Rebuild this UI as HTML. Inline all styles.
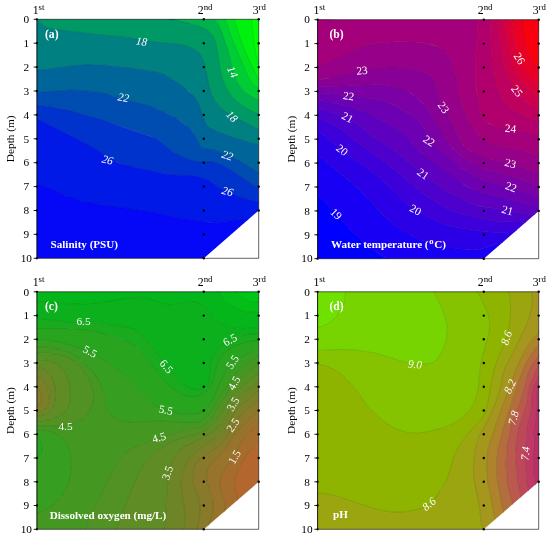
<!DOCTYPE html>
<html lang="en"><head><meta charset="utf-8"><title>Vertical profiles of salinity, water temperature, dissolved oxygen and pH</title>
<style>
html,body{margin:0;padding:0;background:#fff;}
body{width:550px;height:539px;overflow:hidden;}
svg{display:block;font-family:'Liberation Serif','Times New Roman',serif;}
svg text{font-family:'Liberation Serif','Times New Roman',serif;}
</style></head>
<body>
<svg width="550" height="539" viewBox="0 0 550 539">
<rect width="550" height="539" fill="#fff"/>
<clipPath id="ca"><path d="M36.9,19.3H258.7V210.5L203.8,258.3H36.9Z"/></clipPath>
<g clip-path="url(#ca)">
<path d="M250,16.3 261.9,16.3 261.9,69.3 258.4,63.3 255.8,54.3 254.2,44.3 251.8,21.3Z" fill="rgb(0,255,0)" stroke="rgb(0,255,0)" stroke-width="0.6"/>
<path d="M233.2,16.3 250,16.3 251.1,18.3 251.8,21.3 254.2,44.3 255.6,53.3 258.4,63.3 261.9,69.3 261.9,81.7 258.9,79.2 255.9,74.6 244.9,50.8 240.8,40.3Z" fill="rgb(0,241,14)" stroke="rgb(0,241,14)" stroke-width="0.6"/>
<path d="M223.6,16.3 233.2,16.3 240.8,40.3 244.9,50.8 255.9,74.6 258.9,79.2 261.9,81.7 261.9,91.1 253.9,85.3 250.7,81.3 248.3,77.3 232.1,39.3 227.1,24.3Z" fill="rgb(0,223,32)" stroke="rgb(0,223,32)" stroke-width="0.6"/>
<path d="M212.1,16.3 223.6,16.3 227.1,24.3 232.1,39.3 248.3,77.3 250.7,81.3 253.9,85.3 261.9,91.1 261.9,101.9 251.9,97.1 246.9,93.9 241.8,89.3 237.9,84.1 233.9,74.8 228.7,53.3 221,30.3 216.9,22Z" fill="rgb(0,204,51)" stroke="rgb(0,204,51)" stroke-width="0.6"/>
<path d="M158,16.3 212.1,16.3 217.9,23.7 221.8,32.3 228.4,52.3 233.2,72.3 236.4,81.3 240.9,88.3 245.9,93.2 251.9,97.1 261.9,101.9 261.9,115.8 248.9,109.7 240.9,104.7 233.6,98.3 227.9,90.9 224,83.3 221.1,74.3 219,64.3 216.7,47.3 215.3,41.3 212.9,36 209.9,32.1 204.9,28.6 193.9,24.6Z" fill="rgb(0,178,76)" stroke="rgb(0,178,76)" stroke-width="0.6"/>
<path d="M33.9,16.3 158,16.3 188.9,23.2 197.9,25.9 204.9,28.6 207.9,30.4 210.9,33.2 213.1,36.3 215,40.3 216.7,47.3 220.6,72.3 223.2,81.3 226.4,88.3 231.9,96.4 239.9,104 248.1,109.3 261.9,115.8 261.9,131.1 229.9,114.7 222.9,109.8 217.3,104.3 213.3,98.3 210.1,90.3 207.7,81.3 204.7,65.3 202.5,58.3 198.9,52.6 193.9,49 186.9,46.2 177.9,44.2 157.9,42.6 126.9,37.4 96.9,34.5 53.2,29.3 47.9,27.8 42.9,25.2 39.9,22.7 36.9,19.2 33.9,17.1Z" fill="rgb(0,153,102)" stroke="rgb(0,153,102)" stroke-width="0.6"/>
<path d="M33.9,17.1 36.9,19.2 39.9,22.7 43,25.3 47.9,27.8 53.2,29.3 96.9,34.5 126.9,37.4 157.9,42.6 177.9,44.2 187.3,46.3 194.9,49.5 199.9,53.7 202.9,59.2 204.7,65.3 209.5,88.3 211.9,95.3 215.1,101.3 220.9,108.1 228.9,114.1 261.9,131.1 261.9,147.3 257.9,144.7 236.9,138.9 218.9,132.5 209.9,128.1 206.9,125.3 205,122.3 198.6,104.3 195.9,99.1 192.9,95.1 188.9,91.1 182.9,86.7 167.1,76.3 160.9,73.4 153.9,71.7 122.9,67 98.9,64.6 75.9,65.5 44.9,69.7 37.9,69.8 33.9,69.1Z" fill="rgb(0,128,128)" stroke="rgb(0,128,128)" stroke-width="0.6"/>
<path d="M33.9,69.1 37.9,69.8 44.9,69.7 75.9,65.5 88.9,64.7 99.9,64.7 125.9,67.4 154.9,71.9 163.3,74.3 167.9,76.8 184.9,88 192.9,95.1 195.9,99.1 198.6,104.3 205,122.3 206.9,125.3 209.9,128.1 218.9,132.5 236.9,138.9 257.9,144.7 261.9,147.3 261.9,174 257.9,172.3 238.9,160.5 228.9,155.6 213.9,149.9 202.9,148.3 199.9,145.2 192.9,132.1 187.9,126.6 180.9,121.3 171.9,115.4 164.9,111.8 157.9,109 113.9,96 93.9,91.5 82.9,90.4 70.9,90 38.9,92.3 33.9,91.9Z" fill="rgb(0,102,153)" stroke="rgb(0,102,153)" stroke-width="0.6"/>
<path d="M33.9,91.9 38.9,92.3 70.9,90 82.9,90.4 94.9,91.7 105.9,93.9 150.9,106.7 163.9,111.4 175.9,117.9 188.9,127.5 193.9,133.7 199.9,145.3 202.9,148.3 213.9,149.9 228.9,155.6 238.9,160.5 257.9,172.3 261.9,174 261.9,189.2 257.9,187.7 252.9,184.9 231.4,170.3 218.9,163.6 211.9,161.9 199.9,162.2 194.9,161.6 188.9,159.6 177.9,154.9 170.4,150.3 159.9,140.6 153.9,137.6 118.1,125.3 82.9,114.3 56.4,108.3 33.9,104.7Z" fill="rgb(0,77,178)" stroke="rgb(0,77,178)" stroke-width="0.6"/>
<path d="M33.9,104.7 51.1,107.3 70.7,111.3 84.9,114.9 102.6,120.3 155.9,138.4 160.9,141.4 169.2,149.3 173.2,152.3 178.8,155.3 190.6,160.3 197.9,162.1 212.9,162 219.9,164 231.4,170.3 252.9,184.9 257.9,187.7 261.9,189.2 261.9,203.1 243.9,198.5 237.9,196.5 228.9,192.1 219.9,188.7 209.9,181.1 200.5,177.3 191.9,175.6 172.9,174.9 159.9,173 130.9,166.6 114.2,161.3 108.5,158.3 97.9,150.6 90.9,146.5 38.9,119.8 33.9,118.6Z" fill="rgb(0,51,204)" stroke="rgb(0,51,204)" stroke-width="0.6"/>
<path d="M33.9,118.6 38.9,119.8 90.6,146.3 97.9,150.6 108.9,158.6 116.9,162.4 133.9,167.3 161.9,173.4 172.9,174.9 191.9,175.6 200.5,177.3 209.9,181.1 219.9,188.7 228.9,192.1 237.9,196.5 243.9,198.5 261.9,203.1 261.9,219.9 254.9,219.5 245.9,220.3 237.9,219.8 215.9,222.4 203.9,221.5 178.9,217.7 146.9,211.5 110.9,206.5 89.9,202.9 70.9,197.7 49.9,189.3 37.9,183.9 33.9,180.9Z" fill="rgb(0,25,230)" stroke="rgb(0,25,230)" stroke-width="0.6"/>
<path d="M33.9,180.9 38.8,184.3 67,196.3 82.9,201.3 99.9,204.8 145.9,211.3 179.9,217.9 208.9,222.2 218.9,222.2 237.9,219.8 245.9,220.3 254.9,219.5 261.9,219.9 261.9,261.3 33.9,261.3Z" fill="rgb(4,8,246)" stroke="rgb(4,8,246)" stroke-width="0.6"/>
<path d="M250,16.3 251.8,21.3 254.2,44.3 255.8,54.3 258.4,63.3 261.9,69.3M233.2,16.3 240.8,40.3 244.9,50.8 255.9,74.6 258.9,79.2 261.9,81.7M223.6,16.3 227.1,24.3 232.1,39.3 248.3,77.3 250.7,81.3 253.9,85.3 261.9,91.1M212.1,16.3 216.9,22 221,30.3 228.7,53.3 233.9,74.8 237.9,84.1 241.8,89.3 246.9,93.9 251.9,97.1 261.9,101.9M158,16.3 193.9,24.6 204.9,28.6 209.9,32.1 212.9,36 215.3,41.3 216.7,47.3 219,64.3 221.1,74.3 224,83.3 227.9,90.9 233.6,98.3 240.9,104.7 248.9,109.7 261.9,115.8M33.9,17.1 36.9,19.2 40.5,23.3 43.9,25.9 48.9,28.1 53.9,29.4 97.9,34.6 124.9,37.2 155.9,42.3 177.9,44.2 185.9,45.9 192.9,48.5 198.9,52.6 202.5,58.3 204.7,65.3 207.7,81.3 210.1,90.3 213.3,98.3 217.3,104.3 222.9,109.8 229.9,114.7 261.9,131.1M33.9,69.1 37.9,69.8 44.9,69.7 75.9,65.5 98.9,64.6 122.9,67 153.9,71.7 160.9,73.4 167.1,76.3 182.9,86.7 188.9,91.1 192.9,95.1 195.9,99.1 198.6,104.3 205,122.3 206.9,125.3 209.9,128.1 218.9,132.5 236.9,138.9 257.9,144.7 261.9,147.3M33.9,91.9 38.9,92.3 70.9,90 82.9,90.4 93.9,91.5 113.9,96 157.9,109 164.9,111.8 171.9,115.4 180.9,121.3 187.9,126.6 192.9,132.1 199.9,145.2 202.9,148.3 213.9,149.9 228.9,155.6 238.9,160.5 257.9,172.3 261.9,174M33.9,104.7 56.4,108.3 82.9,114.3 118.1,125.3 153.9,137.6 159.9,140.6 170.4,150.3 177.9,154.9 188.9,159.6 194.9,161.6 199.9,162.2 211.9,161.9 218.9,163.6 231.4,170.3 252.9,184.9 257.9,187.7 261.9,189.2M33.9,118.6 38.9,119.8 90.6,146.3 97.9,150.6 108.9,158.6 116.9,162.4 133.9,167.3 161.9,173.4 172.9,174.9 191.9,175.6 200.5,177.3 209.9,181.1 219.9,188.7 228.9,192.1 237.9,196.5 243.9,198.5 261.9,203.1M33.9,180.9 38.8,184.3 67,196.3 82.9,201.3 99.9,204.8 145.9,211.3 179.9,217.9 208.9,222.2 218.9,222.2 237.9,219.8 245.9,220.3 254.9,219.5 261.9,219.9" fill="none" stroke="rgba(0,0,0,0.2)" stroke-width="0.55"/>
</g>
<path d="M36.9,258.3V19.3" fill="none" stroke="#000" stroke-width="0.9"/><path d="M36.9,19.3H258.7V258.3H36.9" fill="none" stroke="#111" stroke-width="0.65"/>
<path d="M33.7,19.3H36.9" stroke="#000" stroke-width="0.9"/>
<circle cx="36.9" cy="19.3" r="1.15" fill="#000"/>
<text x="26.3" y="23.0" text-anchor="middle" font-size="11.3">0</text>
<path d="M33.7,43.2H36.9" stroke="#000" stroke-width="0.9"/>
<circle cx="36.9" cy="43.2" r="1.15" fill="#000"/>
<text x="26.3" y="46.9" text-anchor="middle" font-size="11.3">1</text>
<path d="M33.7,67.1H36.9" stroke="#000" stroke-width="0.9"/>
<circle cx="36.9" cy="67.1" r="1.15" fill="#000"/>
<text x="26.3" y="70.8" text-anchor="middle" font-size="11.3">2</text>
<path d="M33.7,91.0H36.9" stroke="#000" stroke-width="0.9"/>
<circle cx="36.9" cy="91.0" r="1.15" fill="#000"/>
<text x="26.3" y="94.7" text-anchor="middle" font-size="11.3">3</text>
<path d="M33.7,114.9H36.9" stroke="#000" stroke-width="0.9"/>
<circle cx="36.9" cy="114.9" r="1.15" fill="#000"/>
<text x="26.3" y="118.6" text-anchor="middle" font-size="11.3">4</text>
<path d="M33.7,138.8H36.9" stroke="#000" stroke-width="0.9"/>
<circle cx="36.9" cy="138.8" r="1.15" fill="#000"/>
<text x="26.3" y="142.5" text-anchor="middle" font-size="11.3">5</text>
<path d="M33.7,162.7H36.9" stroke="#000" stroke-width="0.9"/>
<circle cx="36.9" cy="162.7" r="1.15" fill="#000"/>
<text x="26.3" y="166.4" text-anchor="middle" font-size="11.3">6</text>
<path d="M33.7,186.6H36.9" stroke="#000" stroke-width="0.9"/>
<circle cx="36.9" cy="186.6" r="1.15" fill="#000"/>
<text x="26.3" y="190.3" text-anchor="middle" font-size="11.3">7</text>
<path d="M33.7,210.5H36.9" stroke="#000" stroke-width="0.9"/>
<circle cx="36.9" cy="210.5" r="1.15" fill="#000"/>
<text x="26.3" y="214.2" text-anchor="middle" font-size="11.3">8</text>
<path d="M33.7,234.4H36.9" stroke="#000" stroke-width="0.9"/>
<circle cx="36.9" cy="234.4" r="1.15" fill="#000"/>
<text x="26.3" y="238.1" text-anchor="middle" font-size="11.3">9</text>
<path d="M33.7,258.3H36.9" stroke="#000" stroke-width="0.9"/>
<circle cx="36.9" cy="258.3" r="1.15" fill="#000"/>
<text x="26.3" y="262.0" text-anchor="middle" font-size="11.3">10</text>
<circle cx="203.8" cy="19.3" r="1.2" fill="#000"/>
<circle cx="203.8" cy="43.2" r="1.2" fill="#000"/>
<circle cx="203.8" cy="67.1" r="1.2" fill="#000"/>
<circle cx="203.8" cy="91.0" r="1.2" fill="#000"/>
<circle cx="203.8" cy="114.9" r="1.2" fill="#000"/>
<circle cx="203.8" cy="138.8" r="1.2" fill="#000"/>
<circle cx="203.8" cy="162.7" r="1.2" fill="#000"/>
<circle cx="203.8" cy="186.6" r="1.2" fill="#000"/>
<circle cx="203.8" cy="210.5" r="1.2" fill="#000"/>
<circle cx="203.8" cy="234.4" r="1.2" fill="#000"/>
<circle cx="203.8" cy="258.3" r="1.2" fill="#000"/>
<circle cx="258.7" cy="19.3" r="1.2" fill="#000"/>
<circle cx="258.7" cy="43.2" r="1.2" fill="#000"/>
<circle cx="258.7" cy="67.1" r="1.2" fill="#000"/>
<circle cx="258.7" cy="91.0" r="1.2" fill="#000"/>
<circle cx="258.7" cy="114.9" r="1.2" fill="#000"/>
<circle cx="258.7" cy="138.8" r="1.2" fill="#000"/>
<circle cx="258.7" cy="162.7" r="1.2" fill="#000"/>
<circle cx="258.7" cy="186.6" r="1.2" fill="#000"/>
<circle cx="258.7" cy="210.5" r="1.2" fill="#000"/>
<text x="32.7" y="13.8" font-size="11.8">1<tspan dy="-4.2" font-size="8.8">st</tspan></text>
<text x="197.8" y="13.8" font-size="11.8">2<tspan dy="-4.2" font-size="8.8">nd</tspan></text>
<text x="252.7" y="13.8" font-size="11.8">3<tspan dy="-4.2" font-size="8.8">rd</tspan></text>
<text transform="translate(14.3,138.8) rotate(-90)" text-anchor="middle" font-size="11.3">Depth (m)</text>
<text x="45" y="37.5" font-size="11.6" font-weight="bold" fill="#fff">(a)</text>
<text x="50.5" y="247.8" font-size="11.1" font-weight="bold" fill="#fff">Salinity (PSU)</text>
<text transform="translate(141.5,41.5) rotate(8)" text-anchor="middle" dy="3.7" font-size="11.3" fill="#fff" font-style="italic">18</text>
<text transform="translate(123.5,97.5) rotate(10)" text-anchor="middle" dy="3.7" font-size="11.3" fill="#fff" font-style="italic">22</text>
<text transform="translate(107.5,160) rotate(14)" text-anchor="middle" dy="3.7" font-size="11.3" fill="#fff" font-style="italic">26</text>
<text transform="translate(232.5,72) rotate(64)" text-anchor="middle" dy="3.7" font-size="11.3" fill="#fff" font-style="italic">14</text>
<text transform="translate(232,116.5) rotate(46)" text-anchor="middle" dy="3.7" font-size="11.3" fill="#fff" font-style="italic">18</text>
<text transform="translate(227.5,155.5) rotate(18)" text-anchor="middle" dy="3.7" font-size="11.3" fill="#fff" font-style="italic">22</text>
<text transform="translate(227.5,191.5) rotate(15)" text-anchor="middle" dy="3.7" font-size="11.3" fill="#fff" font-style="italic">26</text>
<clipPath id="cb"><path d="M317.6,19.7H538.7V210.9L483.8,258.7H317.6Z"/></clipPath>
<g clip-path="url(#cb)">
<path d="M314.6,255.3 317.6,258.7 323.3,261.7 314.6,261.7Z" fill="rgb(0,0,255)" stroke="rgb(0,0,255)" stroke-width="0.6"/>
<path d="M314.6,192.2 327.6,204.4 350.3,229.7 361.7,240.7 370.4,247.7 379,253.7 387.4,258.7 394.5,261.7 323.3,261.7 317.6,258.7 314.6,255.3ZM502.6,261.7 511.6,259.1 519.6,258.4 530.6,259.5 540.2,261.7Z" fill="rgb(0,0,255)" stroke="rgb(0,0,255)" stroke-width="0.6"/>
<path d="M314.6,152.3 346.6,178.4 358.4,188.7 383.6,215.3 390.6,221.9 398.6,227.9 411.6,235.4 422.6,240.2 434.6,244.1 451.6,247.8 468.6,250 475.6,250 480.6,249.3 499.6,242.5 518.6,242.2 526.6,243.1 542.6,247.5 542.6,261.7 540.2,261.7 526.6,258.9 519.6,258.4 511.6,259.1 502.6,261.7 394.5,261.7 387.6,258.8 373.1,249.7 359.4,238.7 349.3,228.7 327.6,204.4 314.6,192.2Z" fill="rgb(24,0,244)" stroke="rgb(24,0,244)" stroke-width="0.6"/>
<path d="M314.6,128.9 318.5,130.7 343.6,151.4 373.6,172.7 386.4,183.7 407.6,204.3 413.6,208.9 419.6,212.4 440.6,222.8 448.6,225.7 456.6,227.6 483.6,231.6 496.6,232.8 505.6,232.7 516.6,230.5 520.6,230.5 529.6,232 542.6,235.3 542.6,247.5 530.6,244 522.6,242.5 501.6,242.4 496.6,243.3 479.6,249.5 473.6,250.1 464.6,249.6 449.6,247.4 434.6,244.1 420.6,239.4 407.6,233.4 398.6,227.9 390.6,221.9 383.6,215.3 358.4,188.7 346.6,178.4 314.6,152.3Z" fill="rgb(44,0,231)" stroke="rgb(44,0,231)" stroke-width="0.6"/>
<path d="M314.6,117.5 321.6,119.6 329.1,122.7 341.6,129.6 362.6,146.4 386.6,162.9 421.6,192.3 432.3,199.7 446.6,208.3 454.6,211.7 463.6,214.6 490.6,220.4 501.6,221.8 520.6,221.9 534.6,223.6 542.6,225.2 542.6,235.3 530.6,232.3 520.6,230.5 516.6,230.5 505.6,232.7 496.6,232.8 483.6,231.6 456.6,227.6 448.6,225.7 440.6,222.8 419.6,212.4 413.6,208.9 407.6,204.3 386.4,183.7 373.6,172.7 343.6,151.4 318.5,130.7 314.6,128.9Z" fill="rgb(61,0,218)" stroke="rgb(61,0,218)" stroke-width="0.6"/>
<path d="M314.6,108 340.6,114.7 346,116.7 351.6,119.7 371.6,135.5 394.6,150.2 420.6,171.8 432.6,181 448.6,192.2 459.6,198.6 470.6,203.3 481.6,206.4 505.6,210.1 524.6,214 535.6,214.7 542.6,215.9 542.6,225.2 534.6,223.6 520.6,221.9 501.6,221.8 490.6,220.4 463.6,214.6 454.6,211.7 446.6,208.3 432.3,199.7 421.6,192.3 386.6,162.9 362.6,146.4 341.6,129.6 329.1,122.7 321.6,119.6 314.6,117.5Z" fill="rgb(78,0,205)" stroke="rgb(78,0,205)" stroke-width="0.6"/>
<path d="M314.6,100 327.6,101.5 350.5,106.7 362.9,110.7 373.6,115.6 393.6,127.2 402.6,133.1 406.8,136.7 419.2,150.7 425.6,156.6 464.6,184.9 472.6,189.3 481.6,193 504.6,197.5 527.6,204.5 542.6,207.3 542.6,215.9 535.6,214.7 524.6,214 505.6,210.1 482.6,206.6 470.6,203.3 459.8,198.7 448.6,192.2 432.6,181 420.6,171.8 394.6,150.2 371.6,135.5 351.6,119.7 346,116.7 340.6,114.7 314.6,108Z" fill="rgb(93,0,192)" stroke="rgb(93,0,192)" stroke-width="0.6"/>
<path d="M314.6,93 327.6,93.2 349.6,96.4 372.6,98.5 383.6,100.8 393.7,104.7 410.6,114.8 418.6,120.7 423.5,126.7 428.6,138.8 432.6,144.6 462.6,169 475.6,177.1 482.6,180.5 509.6,186.4 536.6,196.8 542.6,198.2 542.6,207.3 527.6,204.5 504.6,197.5 482.6,193.3 478.6,192.1 471.6,188.8 458.2,180.7 426.9,157.7 419.2,150.7 405.8,135.7 400.7,131.7 393.6,127.2 373.6,115.6 359.6,109.5 348.6,106.2 333.4,102.7 322.6,100.7 314.6,100Z" fill="rgb(108,0,178)" stroke="rgb(108,0,178)" stroke-width="0.6"/>
<path d="M314.6,86.4 345.6,86.1 379.6,84.6 388.6,85.4 394.6,86.6 401.6,88.6 407.6,91.1 416.6,97.2 424.6,105.5 433.4,117.7 445.9,139.7 453.1,148.7 460.6,155.8 471.6,163.1 483.6,169 489.6,170.8 511.6,175.9 534.6,184.5 542.6,186.9 542.6,198.2 536.6,196.8 509.6,186.4 483.6,180.8 477.6,178.2 467.6,172.3 457.6,165.3 432.7,144.7 428.6,138.8 423.5,126.7 418.6,120.7 410.6,114.8 393.6,104.6 383.6,100.8 372.6,98.5 349.6,96.4 327.6,93.2 314.6,93Z" fill="rgb(123,0,165)" stroke="rgb(123,0,165)" stroke-width="0.6"/>
<path d="M314.6,79.1 319.6,79.5 327.6,78.7 367.6,69.6 377.6,67.9 387.6,67 396.6,67 405.6,67.9 420.6,71.1 427.6,73.3 431.6,76 434.2,79.7 438.9,96.7 442,104.7 455,127.7 461.1,141.7 463.8,145.7 470.7,150.7 484.6,157.6 491.6,159.6 511.6,163.6 531.6,170.8 542.6,173.7 542.6,186.9 534.6,184.5 511.6,175.9 489.6,170.8 483.6,169 474.6,164.8 463.6,158 455,150.7 447.3,141.7 442.7,134.7 432.7,116.7 423.6,104.3 416.6,97.2 410.6,92.7 406.7,90.7 394.6,86.6 388.6,85.4 379.6,84.6 345.6,86.1 314.6,86.4Z" fill="rgb(137,0,151)" stroke="rgb(137,0,151)" stroke-width="0.6"/>
<path d="M314.6,65.7 318.6,65.6 326.6,62.8 359.6,47.2 366.6,44.7 373.6,43.2 391.6,41.9 415.6,41.9 428.6,43.7 439.6,47.2 443.6,49.5 446.6,52.2 451.2,59.7 455.4,72.7 460.1,97.7 462.9,107.7 468.9,120.7 478.2,134.7 483.6,139.9 491.6,143.8 522.6,150.3 542.6,156.5 542.6,173.7 531.6,170.8 511.6,163.6 491.6,159.6 484.8,157.7 474.6,152.9 464.9,146.7 461.6,142.7 455.5,128.7 442,104.7 438.9,96.7 434.2,79.7 431.6,76 427.6,73.3 420.6,71.1 405.6,67.9 396.6,67 386.6,67.1 369.6,69.2 331.6,77.9 317.6,79.6 314.6,79.1Z" fill="rgb(151,0,137)" stroke="rgb(151,0,137)" stroke-width="0.6"/>
<path d="M314.6,20.4 318,19.7 331.6,19.2 347.7,16.7 475.4,16.7 477,21.7 477.5,31.7 475.1,63.7 475.2,79.7 476.2,89.7 479.8,110.7 481.6,115.9 483.6,119.1 486.2,121.7 489.6,123.9 493.6,125.6 499.6,127.1 515.6,129.5 538.6,134.8 542.6,136.5 542.6,156.5 522.6,150.3 491.6,143.8 484.8,140.7 479.6,136.4 470,122.7 463.3,108.7 460.1,97.7 455.4,72.7 451.2,59.7 447,52.7 441.6,48.2 436.6,45.9 430.6,44.1 417.6,42.1 395.6,41.8 374.6,43.1 366.6,44.7 359.6,47.2 334.6,59.4 325.6,63.2 318.6,65.6 314.6,65.7Z" fill="rgb(164,0,123)" stroke="rgb(164,0,123)" stroke-width="0.6"/>
<path d="M314.6,20.4 314.6,16.7 347.7,16.7 331.6,19.2 318,19.7ZM475.4,16.7 488.9,16.7 490.1,24.7 491.5,54.7 493.1,70.7 496.2,84.7 501.4,97.7 505.6,103.7 512.4,109.7 525.6,116.6 542.6,122.5 542.6,136.5 538.6,134.8 515.6,129.5 499.6,127.1 493.6,125.6 486.6,122 484.1,119.7 482,116.7 480.1,111.7 478.7,105.7 475.3,80.7 475.1,63.7 477.5,31.7 477,21.7Z" fill="rgb(177,0,109)" stroke="rgb(177,0,109)" stroke-width="0.6"/>
<path d="M488.9,16.7 498.1,16.7 499.7,38.7 501.8,53.7 505,67.7 509.2,78.7 517.6,91.6 526.2,101.7 532.6,106.3 542.6,110.1 542.6,122.5 525.6,116.6 512.4,109.7 505.6,103.7 500.9,96.7 495.9,83.7 492.8,68.7 491.4,53.7 490.2,25.7Z" fill="rgb(190,0,94)" stroke="rgb(190,0,94)" stroke-width="0.6"/>
<path d="M498.1,16.7 505.6,16.7 505.9,29.7 507.7,42.7 511.6,59.9 516,71.7 521.3,80.7 527.6,88.3 534.6,93.9 542.6,98.2 542.6,110.1 532.6,106.3 525.6,101.1 515.5,88.7 508.7,77.7 505,67.7 501.6,52.7 499.6,37.7Z" fill="rgb(204,0,77)" stroke="rgb(204,0,77)" stroke-width="0.6"/>
<path d="M505.6,16.7 513.3,16.7 512.7,24.7 513.4,33.7 515.6,43.7 520.1,59.7 524.6,69.6 529.6,77.1 534.6,81.8 542.6,86.1 542.6,98.2 533.6,93.3 527.1,87.7 520.6,79.7 515.5,70.7 511.5,59.7 507.6,42.4 505.9,29.7Z" fill="rgb(219,0,58)" stroke="rgb(219,0,58)" stroke-width="0.6"/>
<path d="M513.3,16.7 523.6,16.7 522.9,23.7 523,29.7 525.5,42.7 529.1,53.7 532.6,61.1 537.3,67.7 542.6,72.2 542.6,86.1 534.6,81.8 530.6,78.2 525.8,71.7 521.6,63.5 518.5,54.7 513.6,34.7 512.7,25.7Z" fill="rgb(234,0,37)" stroke="rgb(234,0,37)" stroke-width="0.6"/>
<path d="M523.6,16.7 538.7,16.7 539.2,32.7 540.4,38.7 542.6,44.9 542.6,72.2 538.3,68.7 534.2,63.7 530.6,57.2 527.7,49.7 524.7,39.7 523.2,31.7 522.8,24.7Z" fill="rgb(248,0,14)" stroke="rgb(248,0,14)" stroke-width="0.6"/>
<path d="M538.7,16.7 542.6,16.7 542.6,44.9 540.4,38.7 539.2,32.7Z" fill="rgb(255,0,0)" stroke="rgb(255,0,0)" stroke-width="0.6"/>
<path d="M323.3,261.7 317.6,258.7 314.6,255.3M394.5,261.7 387.4,258.7 379,253.7 370.4,247.7 361.7,240.7 350.3,229.7 327.6,204.4 314.6,192.2M540.2,261.7 530.6,259.5 519.6,258.4 511.6,259.1 502.6,261.7M542.6,247.5 530.6,244 522.6,242.5 501.6,242.4 495.6,243.6 480.6,249.3 475.6,250 468.6,250 456.6,248.6 443.6,246.2 431.6,243.2 420.6,239.4 405.6,232.4 392.6,223.6 383.6,215.3 358.4,188.7 346.6,178.4 314.6,152.3M542.6,235.3 529.6,232 519.6,230.4 516.6,230.5 508.6,232.3 501.6,232.9 492.6,232.6 482.6,231.4 453.6,227 445.6,224.7 437.6,221.5 418.6,211.9 411.6,207.5 404.6,201.6 385.3,182.7 374.9,173.7 364.3,165.7 343.6,151.4 318.5,130.7 314.6,128.9M542.6,225.2 534.6,223.6 520.6,221.9 501.6,221.8 490.6,220.4 463.6,214.6 454.6,211.7 446.6,208.3 432.3,199.7 421.6,192.3 386.6,162.9 362.6,146.4 341.6,129.6 329.1,122.7 321.6,119.6 314.6,117.5M542.6,215.9 535.6,214.7 524.6,214 505.6,210.1 482.6,206.6 471.7,203.7 461.8,199.7 449.6,192.8 433.6,181.7 420.6,171.8 394.6,150.2 371.6,135.5 351.6,119.7 346,116.7 340.6,114.7 314.6,108M542.6,207.3 527.6,204.5 504.6,197.5 482.6,193.3 473.4,189.7 459.6,181.6 426.6,157.5 420.2,151.7 408.6,138.6 402.6,133.1 393.6,127.2 373.6,115.6 362.9,110.7 350.5,106.7 327.6,101.5 314.6,100M542.6,198.2 536.6,196.8 509.6,186.4 483.6,180.8 477.6,178.2 467.6,172.3 457.6,165.3 432.7,144.7 428.6,138.8 423.5,126.7 418.6,120.7 413.6,116.8 404.6,111 391.6,103.7 382.6,100.5 371.6,98.3 349.6,96.4 327.6,93.2 314.6,93M542.6,186.9 534.6,184.5 511.6,175.9 489.6,170.8 483.6,169 474.6,164.8 463.6,158 455,150.7 447.3,141.7 442.7,134.7 432.7,116.7 423.6,104.3 414.6,95.6 410.6,92.7 405.6,90.2 393.6,86.3 379.6,84.6 345.6,86.1 314.6,86.4M542.6,173.7 531.6,170.8 511.6,163.6 491.6,159.6 484.8,157.7 474.6,152.9 464.9,146.7 461.6,142.7 455.5,128.7 442,104.7 438.9,96.7 435.6,83.6 433.7,78.7 430.6,75.1 426.6,72.9 416.6,70.1 404.6,67.8 395.6,67 386.6,67.1 376.6,68.1 365.6,70 327.6,78.7 319.6,79.5 314.6,79.1M542.6,156.5 522.6,150.3 491.6,143.8 484.8,140.7 479.9,136.7 475.2,130.7 470,122.7 463.3,108.7 460.1,97.7 455.1,71.7 450.6,58.4 448.5,54.7 445.6,51.1 441.6,48.2 437.6,46.3 426.6,43.3 414.6,41.9 391.6,41.9 373.6,43.2 366.6,44.7 359.6,47.2 326.6,62.8 318.6,65.6 314.6,65.7M347.7,16.7 331.6,19.2 318,19.7 314.6,20.4M542.6,136.5 538.6,134.8 515.6,129.5 499.6,127.1 493.6,125.6 486.6,122 484.1,119.7 482,116.7 480.1,111.7 478.7,105.7 475.3,80.7 475.1,63.7 477.5,31.7 477,21.7 475.4,16.7M542.6,122.5 525.6,116.6 512.4,109.7 505.6,103.7 500.9,96.7 495.9,83.7 492.8,68.7 491.4,53.7 490.2,25.7 488.9,16.7M542.6,110.1 532.6,106.3 525.6,101.1 515.5,88.7 508.7,77.7 505,67.7 501.6,52.7 499.6,37.7 498.1,16.7M542.6,98.2 533.6,93.3 527.1,87.7 520.6,79.7 515.5,70.7 511.5,59.7 507.6,42.4 505.9,29.7 505.6,16.7M542.6,86.1 534.6,81.8 530.6,78.2 525.8,71.7 521.6,63.5 518.5,54.7 513.6,34.7 512.7,25.7 513.3,16.7M542.6,72.2 538.3,68.7 534.2,63.7 530.6,57.2 527.7,49.7 524.7,39.7 523.2,31.7 522.8,24.7 523.6,16.7M542.6,44.9 540.4,38.7 539.2,32.7 538.7,16.7" fill="none" stroke="rgba(0,0,0,0.16)" stroke-width="0.55"/>
</g>
<path d="M317.6,258.7V19.7" fill="none" stroke="#000" stroke-width="0.9"/><path d="M317.6,19.7H538.7V258.7H317.6" fill="none" stroke="#111" stroke-width="0.65"/>
<path d="M314.4,19.7H317.6" stroke="#000" stroke-width="0.9"/>
<circle cx="317.6" cy="19.7" r="1.15" fill="#000"/>
<text x="307.0" y="23.4" text-anchor="middle" font-size="11.3">0</text>
<path d="M314.4,43.6H317.6" stroke="#000" stroke-width="0.9"/>
<circle cx="317.6" cy="43.6" r="1.15" fill="#000"/>
<text x="307.0" y="47.3" text-anchor="middle" font-size="11.3">1</text>
<path d="M314.4,67.5H317.6" stroke="#000" stroke-width="0.9"/>
<circle cx="317.6" cy="67.5" r="1.15" fill="#000"/>
<text x="307.0" y="71.2" text-anchor="middle" font-size="11.3">2</text>
<path d="M314.4,91.4H317.6" stroke="#000" stroke-width="0.9"/>
<circle cx="317.6" cy="91.4" r="1.15" fill="#000"/>
<text x="307.0" y="95.1" text-anchor="middle" font-size="11.3">3</text>
<path d="M314.4,115.3H317.6" stroke="#000" stroke-width="0.9"/>
<circle cx="317.6" cy="115.3" r="1.15" fill="#000"/>
<text x="307.0" y="119.0" text-anchor="middle" font-size="11.3">4</text>
<path d="M314.4,139.2H317.6" stroke="#000" stroke-width="0.9"/>
<circle cx="317.6" cy="139.2" r="1.15" fill="#000"/>
<text x="307.0" y="142.9" text-anchor="middle" font-size="11.3">5</text>
<path d="M314.4,163.1H317.6" stroke="#000" stroke-width="0.9"/>
<circle cx="317.6" cy="163.1" r="1.15" fill="#000"/>
<text x="307.0" y="166.8" text-anchor="middle" font-size="11.3">6</text>
<path d="M314.4,187.0H317.6" stroke="#000" stroke-width="0.9"/>
<circle cx="317.6" cy="187.0" r="1.15" fill="#000"/>
<text x="307.0" y="190.7" text-anchor="middle" font-size="11.3">7</text>
<path d="M314.4,210.9H317.6" stroke="#000" stroke-width="0.9"/>
<circle cx="317.6" cy="210.9" r="1.15" fill="#000"/>
<text x="307.0" y="214.6" text-anchor="middle" font-size="11.3">8</text>
<path d="M314.4,234.8H317.6" stroke="#000" stroke-width="0.9"/>
<circle cx="317.6" cy="234.8" r="1.15" fill="#000"/>
<text x="307.0" y="238.5" text-anchor="middle" font-size="11.3">9</text>
<path d="M314.4,258.7H317.6" stroke="#000" stroke-width="0.9"/>
<circle cx="317.6" cy="258.7" r="1.15" fill="#000"/>
<text x="307.0" y="262.4" text-anchor="middle" font-size="11.3">10</text>
<circle cx="483.8" cy="19.7" r="1.2" fill="#000"/>
<circle cx="483.8" cy="43.6" r="1.2" fill="#000"/>
<circle cx="483.8" cy="67.5" r="1.2" fill="#000"/>
<circle cx="483.8" cy="91.4" r="1.2" fill="#000"/>
<circle cx="483.8" cy="115.3" r="1.2" fill="#000"/>
<circle cx="483.8" cy="139.2" r="1.2" fill="#000"/>
<circle cx="483.8" cy="163.1" r="1.2" fill="#000"/>
<circle cx="483.8" cy="187.0" r="1.2" fill="#000"/>
<circle cx="483.8" cy="210.9" r="1.2" fill="#000"/>
<circle cx="483.8" cy="234.8" r="1.2" fill="#000"/>
<circle cx="483.8" cy="258.7" r="1.2" fill="#000"/>
<circle cx="538.7" cy="19.7" r="1.2" fill="#000"/>
<circle cx="538.7" cy="43.6" r="1.2" fill="#000"/>
<circle cx="538.7" cy="67.5" r="1.2" fill="#000"/>
<circle cx="538.7" cy="91.4" r="1.2" fill="#000"/>
<circle cx="538.7" cy="115.3" r="1.2" fill="#000"/>
<circle cx="538.7" cy="139.2" r="1.2" fill="#000"/>
<circle cx="538.7" cy="163.1" r="1.2" fill="#000"/>
<circle cx="538.7" cy="187.0" r="1.2" fill="#000"/>
<circle cx="538.7" cy="210.9" r="1.2" fill="#000"/>
<text x="313.4" y="14.2" font-size="11.8">1<tspan dy="-4.2" font-size="8.8">st</tspan></text>
<text x="477.8" y="14.2" font-size="11.8">2<tspan dy="-4.2" font-size="8.8">nd</tspan></text>
<text x="532.7" y="14.2" font-size="11.8">3<tspan dy="-4.2" font-size="8.8">rd</tspan></text>
<text transform="translate(295.0,139.2) rotate(-90)" text-anchor="middle" font-size="11.3">Depth (m)</text>
<text x="329.5" y="37.5" font-size="11.6" font-weight="bold" fill="#fff">(b)</text>
<text x="331" y="247.8" font-size="11.1" font-weight="bold" fill="#fff">Water temperature (<tspan dy="-3.8" dx="0.7" font-size="8.6">o</tspan><tspan dy="3.8" dx="0.6">C)</tspan></text>
<text transform="translate(362,70.5) rotate(-5)" text-anchor="middle" dy="3.7" font-size="11.3" fill="#fff">23</text>
<text transform="translate(348.5,96) rotate(8)" text-anchor="middle" dy="3.7" font-size="11.3" fill="#fff">22</text>
<text transform="translate(347.5,117.5) rotate(28)" text-anchor="middle" dy="3.7" font-size="11.3" fill="#fff">21</text>
<text transform="translate(342,150) rotate(38)" text-anchor="middle" dy="3.7" font-size="11.3" fill="#fff">20</text>
<text transform="translate(336,214) rotate(45)" text-anchor="middle" dy="3.7" font-size="11.3" fill="#fff">19</text>
<text transform="translate(415.5,210) rotate(28)" text-anchor="middle" dy="3.7" font-size="11.3" fill="#fff">20</text>
<text transform="translate(423,174) rotate(35)" text-anchor="middle" dy="3.7" font-size="11.3" fill="#fff">21</text>
<text transform="translate(429,141) rotate(33)" text-anchor="middle" dy="3.7" font-size="11.3" fill="#fff">22</text>
<text transform="translate(443.5,107.5) rotate(55)" text-anchor="middle" dy="3.7" font-size="11.3" fill="#fff">23</text>
<text transform="translate(519.5,58.5) rotate(58)" text-anchor="middle" dy="3.7" font-size="11.3" fill="#fff">26</text>
<text transform="translate(517,91) rotate(52)" text-anchor="middle" dy="3.7" font-size="11.3" fill="#fff">25</text>
<text transform="translate(510.5,128.5) rotate(5)" text-anchor="middle" dy="3.7" font-size="11.3" fill="#fff">24</text>
<text transform="translate(510.5,163.5) rotate(15)" text-anchor="middle" dy="3.7" font-size="11.3" fill="#fff">23</text>
<text transform="translate(511,187) rotate(20)" text-anchor="middle" dy="3.7" font-size="11.3" fill="#fff">22</text>
<text transform="translate(507.5,210.5) rotate(15)" text-anchor="middle" dy="3.7" font-size="11.3" fill="#fff">21</text>
<clipPath id="cc"><path d="M36.9,291.8H258.7V481.8L203.8,529.3H36.9Z"/></clipPath>
<g clip-path="url(#cc)">
<path d="M261.9,476.8 261.9,532.8 241.1,532.8 244.3,522.8 253,501.8Z" fill="rgb(186,100,47)" stroke="rgb(186,100,47)" stroke-width="0.6"/>
<path d="M261.9,439 261.9,476.8 253,501.8 246.5,516.8 241.1,532.8 227.8,532.8 229.6,525.8 233.5,514.8 235.2,506.8 237.6,501.8 237.5,497.8 235.2,489.8 234.6,484.8 235,478.8 236.8,472.8 241,463.8 246.9,454.4 251.9,448.4Z" fill="rgb(179,103,46)" stroke="rgb(179,103,46)" stroke-width="0.6"/>
<path d="M261.9,420.6 261.9,439 251.9,448.4 246.9,454.4 239.9,465.8 235.9,475.3 234.7,480.8 234.6,485.8 235.2,489.8 237.5,497.8 237.6,501.8 235.2,506.8 233.5,514.8 229.6,525.8 227.8,532.8 216.7,532.8 219.8,518.8 224,512.8 225.5,506.8 225,501.8 221.2,491.8 220.1,486.8 220.1,480.8 221.7,474.8 224.8,468.8 233.9,456.5 240.9,442.8 244.1,437.8 251.9,429.1Z" fill="rgb(165,109,45)" stroke="rgb(165,109,45)" stroke-width="0.6"/>
<path d="M261.9,408.7 261.9,420.6 251.9,429.1 244.1,437.8 240.9,442.8 233.9,456.5 225.5,467.8 222.1,473.8 220.3,479.8 220,485.8 220.9,490.8 225.2,502.8 225.5,506.8 224.9,510.2 223.5,513.8 219.8,518.8 216.7,532.8 206.9,532.8 208.7,524.8 212.1,515.8 213.2,506.8 212.2,497.8 207.7,483.8 206.6,478.8 206.7,472.8 208.2,467.8 212.3,461.8 225.9,448.4 232.9,436.7 238.3,429.8 250.9,417.2Z" fill="rgb(151,115,43)" stroke="rgb(151,115,43)" stroke-width="0.6"/>
<path d="M33.9,386.7 36.9,387.9 39.1,389.8 40.9,392.7 41.6,395.8 41.6,399.8 40.2,403.8 38.6,405.8 35.9,406.9 33.9,406.8ZM261.9,398.3 261.9,408.7 250.9,417.2 238.3,429.8 232.9,436.7 225.9,448.4 212.3,461.8 208.2,467.8 206.7,472.8 206.5,477.8 207.7,483.8 212.6,499.8 213.2,505.8 212.7,512.8 211.2,518.8 208.4,525.8 206.9,532.8 196.6,532.8 199.4,517.8 200.2,506.8 198.9,497.8 194.1,485.8 192.7,479.8 192.8,471.8 194.9,465.2 197.1,461.8 200.1,458.8 215.9,448 221.9,443.1 226.3,437.8 232.9,424.8 237.9,418.1 248.9,407.9Z" fill="rgb(137,121,42)" stroke="rgb(137,121,42)" stroke-width="0.6"/>
<path d="M33.9,376.5 40.9,378.4 44.6,381.8 47.9,388.8 49.3,397.8 48.5,403.8 45.5,408.8 40.9,411.8 33.9,412.5 33.9,406.8 36.9,406.7 39.6,404.8 41.4,400.8 41.7,397.8 41.3,393.8 39.9,390.8 36.9,387.9 33.9,386.7ZM261.9,388.9 261.9,398.3 248.9,407.9 237.9,418.1 232.9,424.8 226.3,437.8 221.9,443.1 214.9,448.7 200.9,458.2 197.9,460.9 195.1,464.8 192.8,471.8 192.7,479.8 194.1,485.8 198.9,497.8 200.2,505.8 199.8,514.8 197.8,527.8 196.6,532.8 182.9,532.8 184.7,524.8 185.2,516.8 184.4,508.8 181.7,491.8 181.3,481.8 182.9,471.8 186.5,462.8 190.4,456.8 195.9,451.2 211.9,440.9 222.9,431.4 228.4,424.8 232.9,414.8 236.9,409.4 250.8,396.8Z" fill="rgb(123,127,40)" stroke="rgb(123,127,40)" stroke-width="0.6"/>
<path d="M39.9,367.9 43.4,368.8 46.9,371 49.9,374 52.3,377.8 54.1,382.8 55.2,387.8 55.7,393.8 55.5,398.8 53.4,406.8 49.5,411.8 42.9,415.5 33.9,417.1 33.9,412.5 40.8,411.8 44.4,409.8 47.7,405.8 49.2,400.8 48.7,391.8 47.2,386.8 45.2,382.8 42.9,379.9 40.9,378.4 33.9,376.5 33.9,367.5ZM261.9,379.9 261.9,388.9 250.8,396.8 236.9,409.4 233.5,413.8 228.9,423.9 224.9,429.3 212.9,440.2 195.9,451.2 191.3,455.8 187.6,460.8 183.5,469.8 182.2,474.8 181.4,480.8 181.6,490.8 184.6,509.8 185.2,516.8 184.7,524.8 182.9,532.8 163.7,532.8 165.2,527.8 166.7,494.8 168.5,474.8 171.1,463.8 175,455.8 178.9,450.8 183.8,446.8 203.9,437.1 210.9,432.8 216.1,428.8 220.9,424.1 223.9,420.2 231.6,405.8 236.1,399.8 245.9,391Z" fill="rgb(109,133,39)" stroke="rgb(109,133,39)" stroke-width="0.6"/>
<path d="M33.9,359.7 45.9,359.9 50.9,361 55.4,362.8 58.7,364.8 62.1,367.8 64.9,371.8 67.2,376.8 69.3,383.8 70.3,390.8 70.5,396.8 69.6,402.8 67.7,407.8 65.1,411.8 61.9,414.8 56.4,417.8 46.9,420.3 33.9,421.8 33.9,417.1 39.9,416.3 43.9,415.1 48.2,412.8 51.5,409.8 54.5,403.8 55.7,394.8 54.4,383.8 51.2,375.8 47.9,371.8 43.9,369 40.9,368 33.9,367.5ZM261.9,370.9 261.9,379.9 245.9,391 236.1,399.8 231.6,405.8 223.9,420.2 218.3,426.8 212.9,431.4 206.9,435.4 182.9,447.4 178,451.8 174.3,456.8 170.4,465.8 168.4,475.8 166.5,496.8 165.2,527.8 163.7,532.8 114.7,532.8 135.6,479.8 141.8,467.8 148.3,458.8 158.3,449.8 169.6,442.8 179.9,438.5 199.9,433 207.7,428.8 212.7,423.8 221.9,411.8 229.9,398.6 233.9,393.5 252.9,377.1Z" fill="rgb(96,140,37)" stroke="rgb(96,140,37)" stroke-width="0.6"/>
<path d="M33.9,352.9 53.9,353.7 60.3,354.8 65.9,356.5 70.9,358.8 75.9,362.4 79.9,366.2 84.5,371.8 88.8,378.8 91.8,385.8 93.6,392.8 93.8,398.8 92.9,403.9 90.4,409.8 86.9,414.6 81.9,419.2 73.9,423.5 64.9,425.8 56.9,426.4 33.9,426.3 33.9,421.8 43.9,420.8 52.9,419 58.6,416.8 63.2,413.8 66.6,409.8 68.6,405.8 70,400.8 70.5,394.8 69.8,386.8 68.3,379.8 65.4,372.8 62.1,367.8 57.2,363.8 50.1,360.8 42.9,359.6 33.9,359.7ZM261.9,362.1 261.9,370.9 252.9,377.1 233.9,393.5 229.9,398.6 221.9,411.8 213.5,422.8 208.9,427.8 204.9,430.7 199.9,433 179.9,438.5 169.6,442.8 156.9,450.8 147.4,459.8 141.2,468.8 134.9,481.5 114.7,532.8 83.6,532.8 86,528.8 88.3,520.8 91.6,512.8 112.3,471.8 118.7,460.8 124.7,453.8 129.7,449.8 135,446.8 156.9,438.5 182.9,430.3 199.9,427.3 205.4,424.8 208.9,421.9 211.4,418.8 217.6,407.8 224,398.8 230.9,387 233.3,383.8 243.9,375.8 254.9,366.4Z" fill="rgb(82,146,36)" stroke="rgb(82,146,36)" stroke-width="0.6"/>
<path d="M33.9,532.8 33.9,513.6 41.9,511.5 47.9,508.6 54.9,503.3 60.9,496.7 65.3,489.8 68.5,481.8 70.6,472.8 71.4,463.8 70.7,455.8 68.9,448.8 65.9,442.8 61.9,437.8 56.6,433.8 49.2,430.8 40.9,429.6 33.9,430.2 33.9,426.3 61.9,426.1 69.8,424.8 76.9,422.2 83.7,417.8 89.1,411.8 92.9,403.9 93.9,396.8 92.5,387.8 88.8,378.8 83,369.8 75.9,362.4 68.9,357.7 60.3,354.8 49.9,353.3 33.9,352.9 33.9,346.6 48.9,347.2 59.9,349.1 69.9,352.7 77.9,357.7 91.1,369.8 95.2,374.8 98.4,379.8 102.8,389.8 106.9,408.1 107.9,410.8 109.9,413.9 113.9,417.3 118.9,419.9 124.9,421.5 130.9,422 161.9,421.1 190.9,422.6 196.9,422.1 201.9,420.5 205.9,417.7 209.9,413 219.9,396.7 231.9,379 236.9,372.7 242.8,366.8 248.9,361.8 256.9,356.5 261.9,354.1 261.9,362.1 254.9,366.4 243.9,375.8 235.9,381.5 232.9,384.3 224.7,397.8 217.6,407.8 211.9,418.1 208.9,421.9 205.9,424.5 199.9,427.3 185.9,429.6 175.9,432.3 140.9,444.3 131.3,448.8 123.6,454.8 118,461.8 112.3,471.8 91.6,512.8 88.3,520.8 86,528.8 83.6,532.8Z" fill="rgb(68,152,34)" stroke="rgb(68,152,34)" stroke-width="0.6"/>
<path d="M33.9,339.7 36.9,340.2 49.9,340.3 61.9,342.5 79.9,348 95.8,354.8 107.9,361.8 119.8,370.8 128.9,379.2 149,399.8 156,405.8 162.6,408.8 176.9,413 183.9,414.2 189.9,414.2 198.9,413.3 202.9,411.9 205.5,409.8 212.9,399.5 218.3,385.8 227.1,368.8 229.7,364.8 232.8,361.8 243.9,355.9 253.9,349.7 261.9,346.7 261.9,354.1 256.9,356.5 248.9,361.8 242.8,366.8 236.9,372.7 231.9,379 219.9,396.7 209.9,413 205.9,417.7 201.9,420.5 196.9,422.1 190.9,422.6 161.9,421.1 128.9,421.9 122.9,421.1 117.9,419.5 112.9,416.7 109.8,413.8 107.1,408.8 103.5,391.8 99.4,381.8 92.8,371.8 80.9,360.2 71.9,353.8 61.9,349.6 49.9,347.3 33.9,346.6ZM44.9,429.9 50.9,431.3 56.6,433.8 61.9,437.8 65.9,442.8 68.5,447.8 70.5,454.8 71.3,462.8 70.9,470.8 69.4,478.8 66.7,486.8 63.6,492.8 58.9,499.1 53.2,504.8 46.9,509.2 41.2,511.8 33.9,513.6 33.9,461.4 40.8,453.8 41.8,450.8 41.8,444.8 39.6,438.8 37.9,437.5 33.9,437.3 33.9,430.2 37.9,429.6Z" fill="rgb(54,158,33)" stroke="rgb(54,158,33)" stroke-width="0.6"/>
<path d="M33.9,328.5 65.9,328.5 86.9,330.1 104.8,333.8 126.9,341.5 133.9,345.2 139.9,350.2 158.9,374.7 169.7,385.8 175.9,390.6 180.9,393.6 185.9,395.6 190.9,396.6 195.9,396.5 200.9,395.2 205.9,392 208.7,388.8 211.2,384.8 212.7,380.8 216.5,366.8 218.9,360.4 222.9,354.1 227.8,349.8 233,346.8 240.2,343.8 246.9,341.9 253.9,340.8 261.9,340.1 261.9,346.7 257.9,347.8 253.6,349.8 243.9,355.9 234.3,360.8 230.6,363.8 227.1,368.8 218.9,384.7 212.9,399.5 204.9,410.4 201.9,412.4 198.9,413.3 189.9,414.2 183.9,414.2 176.9,413 162.6,408.8 156,405.8 149,399.8 128.9,379.2 119.8,370.8 107.9,361.8 95.8,354.8 79.9,348 61.9,342.5 49.9,340.3 36.9,340.2 33.9,339.7ZM35.9,437.1 37.9,437.5 39.6,438.8 41.8,444.8 42,449.8 41.3,452.8 40.1,454.8 33.9,461.4 33.9,437.3Z" fill="rgb(40,164,31)" stroke="rgb(40,164,31)" stroke-width="0.6"/>
<path d="M33.9,317.8 64.9,321.5 92.9,322.4 126.9,327.2 133.9,329.1 137.9,331.3 142.9,336.1 154.7,349.8 165.9,366 182.3,382.8 189.3,387.8 195.9,389.6 198.9,389.6 202.9,388.5 205.9,386.7 208.1,383.8 209.2,379.8 210.3,364.8 212,357.8 216.4,349.8 222.5,343.8 227.9,340.4 234.9,337.4 241.9,335.4 249.9,334.1 261.9,333.7 261.9,340.1 250.9,341.2 242.9,342.9 233.9,346.4 226.5,350.8 221.9,355.4 218.9,360.4 216.5,366.8 212.7,380.8 211.2,384.8 208.7,388.8 205.9,392 200.9,395.2 195.9,396.5 190.9,396.6 184.9,395.3 179.9,393.1 174.9,389.9 168.9,385.1 158.1,373.8 140.5,350.8 135.9,346.6 129.9,342.9 122.8,339.8 108.2,334.8 89.9,330.5 69.9,328.6 33.9,328.5Z" fill="rgb(26,170,30)" stroke="rgb(26,170,30)" stroke-width="0.6"/>
<path d="M33.9,301 66.9,303.7 86.9,303.8 101.9,302.6 127.9,298 138.9,297.2 144.9,297.7 149.9,298.8 161.9,303.3 167.9,304.7 173.9,304.4 187.9,301.9 194.9,301.8 199.9,303.1 203.9,305.4 215.1,318.8 219.8,322.8 223.9,325.1 230.9,327.4 238.9,328.4 256.9,327.9 261.9,326.7 261.9,333.7 248.9,334.2 238.9,336.1 228.9,339.9 221.2,344.8 215.7,350.8 211.7,358.8 210.1,365.8 209.2,379.8 207.9,384.1 205.9,386.7 202.9,388.5 198.9,389.6 194.9,389.5 191.7,388.8 187.4,386.8 181.3,381.8 165.9,366 154.7,349.8 144.9,338.3 139.9,333 135.9,330.1 127.9,327.4 94.9,322.6 83.9,321.7 64.9,321.5 33.9,317.8Z" fill="rgb(12,176,28)" stroke="rgb(12,176,28)" stroke-width="0.6"/>
<path d="M33.9,288.8 215.3,288.8 218.5,291.8 221.9,297 225.9,301.5 230.9,305.5 235.9,308.3 241.9,310.7 247.9,312.1 261.9,312.4 261.9,326.7 257.9,327.8 241.9,328.5 232.9,327.8 225.5,325.8 220.9,323.5 215.9,319.6 203.9,305.4 199.9,303.1 195.9,302 188.4,301.8 173.9,304.4 167.9,304.7 162.9,303.6 146.9,298.1 137.9,297.2 128.9,297.9 104.9,302.2 92.9,303.5 75.9,304 55.9,302.9 33.9,301Z" fill="rgb(5,182,26)" stroke="rgb(5,182,26)" stroke-width="0.6"/>
<path d="M215.3,288.8 233.9,288.8 239.9,295.9 245.9,300 252.9,302.1 261.9,302.1 261.9,312.4 247.9,312.1 241.9,310.7 235.9,308.3 230.9,305.5 225.9,301.5 221.9,297 218.5,291.8Z" fill="rgb(2,190,23)" stroke="rgb(2,190,23)" stroke-width="0.6"/>
<path d="M233.9,288.8 261.9,288.8 261.9,302.1 252.9,302.1 245.9,300 239.9,295.9Z" fill="rgb(0,198,20)" stroke="rgb(0,198,20)" stroke-width="0.6"/>
<path d="M261.9,476.8 253,501.8 244.3,522.8 241.1,532.8M261.9,439 251.9,448.4 246.9,454.4 241,463.8 236.8,472.8 235,478.8 234.6,484.8 235.2,489.8 237.5,497.8 237.6,501.8 235.2,506.8 233.5,514.8 229.6,525.8 227.8,532.8M261.9,420.6 251.9,429.1 244.1,437.8 240.9,442.8 233.9,456.5 224.8,468.8 221.7,474.8 220.1,480.8 220.1,486.8 221.2,491.8 225,501.8 225.5,506.8 224,512.8 219.8,518.8 216.7,532.8M261.9,408.7 250.9,417.2 238.3,429.8 232.9,436.7 225.9,448.4 212.3,461.8 208.2,467.8 206.7,472.8 206.6,478.8 207.7,483.8 212.2,497.8 213.2,506.8 212.1,515.8 208.7,524.8 206.9,532.8M261.9,398.3 248.9,407.9 237.9,418.1 232.9,424.8 226.3,437.8 221.9,443.1 215.9,448 200.1,458.8 197.1,461.8 194.9,465.2 192.8,471.8 192.7,479.8 194.1,485.8 198.9,497.8 200.2,506.8 199.4,517.8 196.6,532.8M33.9,406.8 36.9,406.7 39.6,404.8 41.4,400.8 41.7,397.8 41.3,393.8 39.9,390.8 36.9,387.9 33.9,386.7M261.9,388.9 250.8,396.8 236.9,409.4 232.9,414.8 228.4,424.8 222.9,431.4 211.9,440.9 195.9,451.2 190.4,456.8 186.5,462.8 182.9,471.8 181.3,481.8 181.7,491.8 184.4,508.8 185.2,516.8 184.7,524.8 182.9,532.8M33.9,412.5 40.9,411.8 45.5,408.8 48.5,403.8 49.3,397.8 47.9,388.8 44.6,381.8 40.9,378.4 33.9,376.5M261.9,379.9 245.9,391 236.1,399.8 231.6,405.8 223.9,420.2 220.9,424.1 216.1,428.8 210.9,432.8 203.9,437.1 183.8,446.8 178.9,450.8 175,455.8 171.1,463.8 168.5,474.8 166.7,494.8 165.2,527.8 163.7,532.8M33.9,417.1 42.9,415.5 46.9,413.6 50.6,410.8 52.8,407.8 54.5,403.8 55.7,394.8 55.3,388.8 54.1,382.8 52.3,377.8 49.7,373.8 46.7,370.8 42.9,368.6 39.9,367.9 33.9,367.5M261.9,370.9 252.9,377.1 233.9,393.5 229.9,398.6 221.9,411.8 212.7,423.8 207.7,428.8 199.9,433 179.9,438.5 169.6,442.8 158.3,449.8 148.3,458.8 141.8,467.8 135.6,479.8 114.7,532.8M33.9,421.8 43.9,420.8 51.9,419.2 57.9,417.1 61.9,414.8 65.1,411.8 68.2,406.8 70,400.8 70.5,394.8 69.7,385.8 68,378.8 64.9,371.8 61.1,366.8 55.9,363.1 49.9,360.7 42.9,359.6 33.9,359.7M261.9,362.1 254.9,366.4 243.9,375.8 233.3,383.8 230.9,387 224,398.8 217.6,407.8 211.4,418.8 208.9,421.9 205.4,424.8 199.9,427.3 182.9,430.3 156.9,438.5 135,446.8 129.7,449.8 124.7,453.8 118.7,460.8 112.3,471.8 91.6,512.8 88.3,520.8 86,528.8 83.6,532.8M33.9,426.3 61.9,426.1 69.8,424.8 76.9,422.2 83.7,417.8 89.1,411.8 92.9,403.9 93.9,396.8 92.5,387.8 88.3,377.8 81.9,368.5 73.9,360.8 66.8,356.8 58.9,354.5 48.9,353.3 33.9,352.9M261.9,354.1 256.9,356.5 248.9,361.8 242.8,366.8 236.9,372.7 231.9,379 219.9,396.7 209.9,413 205.9,417.7 201.9,420.5 196.9,422.1 190.9,422.6 161.9,421.1 130.9,422 124.9,421.5 118.9,419.9 113.9,417.3 109.9,413.9 107.9,410.8 106.9,408.1 102.8,389.8 98.4,379.8 95.2,374.8 91.1,369.8 77.9,357.7 69.9,352.7 59.9,349.1 48.9,347.2 33.9,346.6M33.9,430.2 40.9,429.6 49.2,430.8 54.7,432.8 60.9,436.8 65.3,441.8 68.5,447.8 70.5,454.8 71.4,463.8 70.6,472.8 68.5,481.8 65.3,489.8 60.9,496.7 54.9,503.3 47.9,508.6 41.9,511.5 33.9,513.6M261.9,346.7 257.9,347.8 253.6,349.8 243.9,355.9 234.3,360.8 230.6,363.8 227.1,368.8 218.9,384.7 212.9,399.5 204.9,410.4 201.9,412.4 198.9,413.3 185.9,414.3 180.9,413.9 176,412.8 160.9,408.2 156,405.8 149,399.8 128.9,379.2 119.8,370.8 107.9,361.8 94.9,354.3 79.9,348 60.9,342.2 48.9,340.2 36.9,340.2 33.9,339.7M33.9,437.3 37.9,437.5 39.6,438.8 41.8,444.8 41.8,450.8 40.8,453.8 33.9,461.4M261.9,340.1 250.9,341.2 241.9,343.2 232.9,346.8 225.9,351.3 221.9,355.4 218.7,360.8 216.5,366.8 212.7,380.8 211.2,384.8 208.9,388.6 205.9,392 200.9,395.2 196.9,396.3 191.9,396.6 185.9,395.6 180.9,393.6 175.9,390.6 169.9,385.9 158.9,374.7 139.9,350.2 133.9,345.2 126.9,341.5 104.8,333.8 86.9,330.1 65.9,328.5 33.9,328.5M261.9,333.7 248.9,334.2 238.9,336.1 228.9,339.9 220.9,345.1 215.7,350.8 211.7,358.8 210.3,364.8 209.2,379.8 208.1,383.8 205.9,386.7 202.9,388.5 198.9,389.6 195.9,389.6 189.3,387.8 182.3,382.8 165.9,366 154.7,349.8 142.9,336.1 137.9,331.3 133.9,329.1 126.9,327.2 92.9,322.4 64.9,321.5 33.9,317.8M261.9,326.7 257.9,327.8 241.9,328.5 232.9,327.8 225.9,326 220.9,323.5 216.1,319.8 203.9,305.4 199.9,303.1 194.9,301.8 187.9,301.9 173.9,304.4 167.9,304.7 161.9,303.3 149.9,298.8 144.9,297.7 138.9,297.2 127.9,298 101.9,302.6 86.9,303.8 66.9,303.7 33.9,301M261.9,312.4 247.9,312.1 241.9,310.7 235.9,308.3 230.9,305.5 225.9,301.5 221.9,297 218.5,291.8 215.3,288.8M261.9,302.1 252.9,302.1 245.9,300 239.9,295.9 233.9,288.8" fill="none" stroke="rgba(0,0,0,0.2)" stroke-width="0.55"/>
</g>
<path d="M36.9,529.3V291.8" fill="none" stroke="#000" stroke-width="0.9"/><path d="M36.9,291.8H258.7V529.3H36.9" fill="none" stroke="#111" stroke-width="0.65"/>
<path d="M33.7,291.8H36.9" stroke="#000" stroke-width="0.9"/>
<circle cx="36.9" cy="291.8" r="1.15" fill="#000"/>
<text x="26.3" y="295.5" text-anchor="middle" font-size="11.3">0</text>
<path d="M33.7,315.6H36.9" stroke="#000" stroke-width="0.9"/>
<circle cx="36.9" cy="315.6" r="1.15" fill="#000"/>
<text x="26.3" y="319.2" text-anchor="middle" font-size="11.3">1</text>
<path d="M33.7,339.3H36.9" stroke="#000" stroke-width="0.9"/>
<circle cx="36.9" cy="339.3" r="1.15" fill="#000"/>
<text x="26.3" y="343.0" text-anchor="middle" font-size="11.3">2</text>
<path d="M33.7,363.0H36.9" stroke="#000" stroke-width="0.9"/>
<circle cx="36.9" cy="363.0" r="1.15" fill="#000"/>
<text x="26.3" y="366.7" text-anchor="middle" font-size="11.3">3</text>
<path d="M33.7,386.8H36.9" stroke="#000" stroke-width="0.9"/>
<circle cx="36.9" cy="386.8" r="1.15" fill="#000"/>
<text x="26.3" y="390.5" text-anchor="middle" font-size="11.3">4</text>
<path d="M33.7,410.5H36.9" stroke="#000" stroke-width="0.9"/>
<circle cx="36.9" cy="410.5" r="1.15" fill="#000"/>
<text x="26.3" y="414.2" text-anchor="middle" font-size="11.3">5</text>
<path d="M33.7,434.3H36.9" stroke="#000" stroke-width="0.9"/>
<circle cx="36.9" cy="434.3" r="1.15" fill="#000"/>
<text x="26.3" y="438.0" text-anchor="middle" font-size="11.3">6</text>
<path d="M33.7,458.0H36.9" stroke="#000" stroke-width="0.9"/>
<circle cx="36.9" cy="458.0" r="1.15" fill="#000"/>
<text x="26.3" y="461.7" text-anchor="middle" font-size="11.3">7</text>
<path d="M33.7,481.8H36.9" stroke="#000" stroke-width="0.9"/>
<circle cx="36.9" cy="481.8" r="1.15" fill="#000"/>
<text x="26.3" y="485.5" text-anchor="middle" font-size="11.3">8</text>
<path d="M33.7,505.5H36.9" stroke="#000" stroke-width="0.9"/>
<circle cx="36.9" cy="505.5" r="1.15" fill="#000"/>
<text x="26.3" y="509.2" text-anchor="middle" font-size="11.3">9</text>
<path d="M33.7,529.3H36.9" stroke="#000" stroke-width="0.9"/>
<circle cx="36.9" cy="529.3" r="1.15" fill="#000"/>
<text x="26.3" y="533.0" text-anchor="middle" font-size="11.3">10</text>
<circle cx="203.8" cy="291.8" r="1.2" fill="#000"/>
<circle cx="203.8" cy="315.6" r="1.2" fill="#000"/>
<circle cx="203.8" cy="339.3" r="1.2" fill="#000"/>
<circle cx="203.8" cy="363.0" r="1.2" fill="#000"/>
<circle cx="203.8" cy="386.8" r="1.2" fill="#000"/>
<circle cx="203.8" cy="410.5" r="1.2" fill="#000"/>
<circle cx="203.8" cy="434.3" r="1.2" fill="#000"/>
<circle cx="203.8" cy="458.0" r="1.2" fill="#000"/>
<circle cx="203.8" cy="481.8" r="1.2" fill="#000"/>
<circle cx="203.8" cy="505.5" r="1.2" fill="#000"/>
<circle cx="203.8" cy="529.3" r="1.2" fill="#000"/>
<circle cx="258.7" cy="291.8" r="1.2" fill="#000"/>
<circle cx="258.7" cy="315.6" r="1.2" fill="#000"/>
<circle cx="258.7" cy="339.3" r="1.2" fill="#000"/>
<circle cx="258.7" cy="363.0" r="1.2" fill="#000"/>
<circle cx="258.7" cy="386.8" r="1.2" fill="#000"/>
<circle cx="258.7" cy="410.5" r="1.2" fill="#000"/>
<circle cx="258.7" cy="434.3" r="1.2" fill="#000"/>
<circle cx="258.7" cy="458.0" r="1.2" fill="#000"/>
<circle cx="258.7" cy="481.8" r="1.2" fill="#000"/>
<text x="32.7" y="286.3" font-size="11.8">1<tspan dy="-4.2" font-size="8.8">st</tspan></text>
<text x="197.8" y="286.3" font-size="11.8">2<tspan dy="-4.2" font-size="8.8">nd</tspan></text>
<text x="252.7" y="286.3" font-size="11.8">3<tspan dy="-4.2" font-size="8.8">rd</tspan></text>
<text transform="translate(14.3,410.5) rotate(-90)" text-anchor="middle" font-size="11.3">Depth (m)</text>
<text x="45" y="310.0" font-size="11.6" font-weight="bold" fill="#fff">(c)</text>
<text x="49.7" y="519.3" font-size="11.1" font-weight="bold" fill="#fff">Dissolved oxygen (mg/L)</text>
<text transform="translate(83.5,321.5) rotate(0)" text-anchor="middle" dy="3.7" font-size="11.3" fill="#fff">6.5</text>
<text transform="translate(90,351.5) rotate(28)" text-anchor="middle" dy="3.7" font-size="11.3" fill="#fff">5.5</text>
<text transform="translate(65.5,426) rotate(0)" text-anchor="middle" dy="3.7" font-size="11.3" fill="#fff">4.5</text>
<text transform="translate(166,410) rotate(12)" text-anchor="middle" dy="3.7" font-size="11.3" fill="#fff">5.5</text>
<text transform="translate(159,437.5) rotate(-15)" text-anchor="middle" dy="3.7" font-size="11.3" fill="#fff">4.5</text>
<text transform="translate(167.5,473) rotate(-72)" text-anchor="middle" dy="3.7" font-size="11.3" fill="#fff">3.5</text>
<text transform="translate(166.5,366.5) rotate(50)" text-anchor="middle" dy="3.7" font-size="11.3" fill="#fff">6.5</text>
<text transform="translate(230,340) rotate(-28)" text-anchor="middle" dy="3.7" font-size="11.3" fill="#fff">6.5</text>
<text transform="translate(232.5,362) rotate(-55)" text-anchor="middle" dy="3.7" font-size="11.3" fill="#fff">5.5</text>
<text transform="translate(234,383) rotate(-60)" text-anchor="middle" dy="3.7" font-size="11.3" fill="#fff">4.5</text>
<text transform="translate(233,404) rotate(-60)" text-anchor="middle" dy="3.7" font-size="11.3" fill="#fff">3.5</text>
<text transform="translate(233,425) rotate(-55)" text-anchor="middle" dy="3.7" font-size="11.3" fill="#fff">2.5</text>
<text transform="translate(234.5,457) rotate(-60)" text-anchor="middle" dy="3.7" font-size="11.3" fill="#fff">1.5</text>
<clipPath id="cd"><path d="M317.6,291.8H538.7V481.8L483.8,529.3H317.6Z"/></clipPath>
<g clip-path="url(#cd)">
<path d="M542.6,391.2 542.6,466.1 541.4,455.8 540.4,439.8 541.9,409.8 541.8,395.8Z" fill="rgb(188,42,108)" stroke="rgb(188,42,108)" stroke-width="0.6"/>
<path d="M542.6,379.6 542.6,391.2 541.7,396.8 541.9,410.8 540.4,439.8 541.4,455.8 542.6,466.1 542.6,515.9 534.9,481.8 533.8,471.8 533.4,458.8 534.3,428.8 536.9,406.8 536.5,392.8 537.9,387.8Z" fill="rgb(188,46,106)" stroke="rgb(188,46,106)" stroke-width="0.6"/>
<path d="M542.6,370.5 542.6,379.6 538.6,386.3 536.6,391.8 536.8,407.8 534.7,423.8 533.8,438.8 533.4,461.8 534.2,476.8 535.3,483.8 542.6,515.9 542.6,532.8 536.5,532.8 526.8,480.8 525.4,462.8 525.3,447.8 527.2,425.8 532,406.8 531.9,395.8 532.7,389.8 536.6,379.8Z" fill="rgb(190,57,99)" stroke="rgb(190,57,99)" stroke-width="0.6"/>
<path d="M542.6,361.2 542.6,370.5 536.6,379.8 532.7,389.8 531.9,395.8 532,406.8 527.8,422.8 526,435.8 525.1,455.8 526.4,477.8 536.5,532.8 528.6,532.8 526.7,524.8 525.6,522.8 517.2,477.8 515.8,461.8 516.1,444.8 517.2,435.8 518.9,427.8 526.4,404.8 528.3,390.8 530.1,383.8 535.3,371.8 538.6,366.3Z" fill="rgb(189,72,89)" stroke="rgb(189,72,89)" stroke-width="0.6"/>
<path d="M542.6,351.4 542.6,361.2 538.6,366.3 535.3,371.8 531.9,378.8 529.8,384.8 528.3,390.8 526.1,405.8 519.2,426.8 516.6,439.8 515.7,456.8 516.9,475.8 525.6,522.7 526.7,524.8 528.6,532.8 518.9,532.8 512.3,502.8 508.9,490.8 507.1,480.8 506,463.8 507.2,444.8 511.1,424.8 513.6,417.4 520,402.8 527.9,373.8 530.6,367.6 533.6,362.4Z" fill="rgb(186,89,77)" stroke="rgb(186,89,77)" stroke-width="0.6"/>
<path d="M542.6,340.7 542.6,351.4 534,361.8 528.6,372.1 525.7,380.8 520.4,401.8 512.3,420.8 508.6,435.8 507,446.8 506.1,457.8 506,467.8 506.7,477.8 508.6,489.8 512.3,502.8 518.9,532.8 508.4,532.8 502.6,509.1 497.4,480.8 496.5,463.8 498,448.8 503.1,428.8 518.9,380.8 523.3,368.8 527.1,360.8 531.3,353.8 535.1,348.8Z" fill="rgb(180,109,61)" stroke="rgb(180,109,61)" stroke-width="0.6"/>
<path d="M542.6,288.8 542.6,340.7 535.1,348.8 531.3,353.8 527.1,360.8 523.3,368.8 518.9,380.8 503.1,428.8 498.2,447.8 496.5,463.8 497.3,479.8 502.6,509.1 508.4,532.8 497.4,532.8 487.6,480.8 486.5,464.8 487.5,451.8 490.4,440.8 502.8,404.8 517.4,365.8 522.1,355.8 527.1,346.8 532.6,339.1 538.6,332.8 539.6,330.8 541.1,322.8Z" fill="rgb(174,131,44)" stroke="rgb(174,131,44)" stroke-width="0.6"/>
<path d="M542.4,288.8 541.1,322.8 539.6,330.8 538.6,332.8 532.6,339.1 527.6,346 523.1,353.8 517.9,364.8 503.5,402.8 488.3,447.8 486.6,460.8 487.3,477.8 488.9,488.8 492.7,506.8 494.6,519.8 497.4,532.8 484.1,532.8 483.7,528.8 481.5,524.8 479.6,507.8 474.8,484.8 473.7,476.8 473.5,461.8 475.8,446.8 479.7,434.8 489.8,416.8 498.3,395.8 500.3,388.8 502.6,375.6 505.1,367.8 524.2,329.8 528,320.8 530.6,311.8 531.9,303.8 532.2,295.8 531.4,288.8Z" fill="rgb(165,150,30)" stroke="rgb(165,150,30)" stroke-width="0.6"/>
<path d="M531.4,288.8 532.2,295.8 531.9,303.8 530.6,311.8 528,320.8 524.2,329.8 505.1,367.8 502.6,375.6 500.3,388.8 498.3,395.8 489.8,416.8 479.7,434.8 477.1,441.8 474.9,450.8 473.3,464.8 473.8,477.8 479.4,506.8 481.5,524.8 483.7,528.8 484.1,532.8 314.6,532.8 314.6,492.9 326.6,493.8 334.6,495.4 374.6,508.6 384.6,510.9 393.6,512.1 404.6,511.9 420,508.8 427.6,505.8 432.6,501.6 441.6,488.4 446.5,479.8 448.7,473.8 453.7,456.8 457.9,447.8 468.3,432.8 481.6,419 485.8,410.8 488.1,401.8 491.5,380.8 494,369.8 497.4,359.8 505.8,339.8 508.7,328.8 510.3,316.8 510.7,306.8 510.1,298.8 507.9,288.8Z" fill="rgb(155,165,15)" stroke="rgb(155,165,15)" stroke-width="0.6"/>
<path d="M507.9,288.8 510.1,298.8 510.7,306.8 510.3,316.8 508.7,328.8 505.8,339.8 497.4,359.8 494,369.8 491.5,380.8 488.1,401.8 485.6,411.3 481.6,419 468.3,432.8 458.5,446.8 454.1,455.8 448.6,474.3 446,480.8 436.6,496.2 431.6,502.6 425.7,506.8 417.6,509.4 403.6,512 392.6,512.1 383.6,510.7 373.6,508.3 334.6,495.4 326.6,493.8 314.6,492.9 314.6,364.5 319.6,364.3 327.6,366.5 334.6,369.8 340.6,373.8 347.1,379.8 356.1,389.8 366.6,405.1 371.6,410.7 384.6,421.9 395.6,428.5 406.6,432.3 416.6,433.2 427.6,431.5 440.6,428.3 447.6,426.1 458.6,420.4 463.2,416.8 467.3,412.8 471.1,407.8 473.6,403.4 475.9,397.8 477.8,390.8 481.1,361.8 483.2,352.8 488.6,334.8 489.8,325.8 489.1,318.8 487.4,312.8 476.2,288.8Z" fill="rgb(143,180,0)" stroke="rgb(143,180,0)" stroke-width="0.6"/>
<path d="M476.2,288.8 485.6,308.3 488.1,314.8 489.7,323.8 489.3,331.8 481.5,359.8 480,369.8 478.2,388.8 475.2,399.8 471.6,407 466.4,413.8 459.6,419.7 451.6,424.3 439.6,428.6 424.6,432.2 417.6,433.2 407.6,432.5 396.6,429 390.6,425.9 384.6,421.9 371.6,410.7 366.6,405.1 356.1,389.8 347.1,379.8 340.6,373.8 334.6,369.8 327.6,366.5 319.6,364.3 314.6,364.5 314.6,350.5 339.6,349.4 355.6,349.9 369.6,351.9 381.5,354.8 403.6,361.7 412.6,363.7 424.6,364.1 432.6,362.5 435.4,360.8 437.6,358.5 442.8,349.8 446.4,339.8 447.4,330.8 446.6,322.8 443.9,313.8 438.9,301.8 432.3,288.8Z" fill="rgb(133,195,0)" stroke="rgb(133,195,0)" stroke-width="0.6"/>
<path d="M314.6,327.5 320.6,326.8 326.6,324.5 332,320.8 336.8,315.8 340.9,309.8 343.6,303.8 345.1,297.8 345.8,288.8 432.3,288.8 438.9,301.8 444.2,314.8 446.8,323.8 447.4,331.8 446.6,338.8 444.5,345.8 440.6,354 436.6,359.7 433.6,362 430.6,363.2 424.6,364.1 417.6,364.2 406.6,362.5 378.6,354 361.6,350.6 342.6,349.4 314.6,350.5Z" fill="rgb(120,212,0)" stroke="rgb(120,212,0)" stroke-width="0.6"/>
<path d="M345.8,288.8 345.1,297.8 343.6,303.8 340.9,309.8 336.8,315.8 332,320.8 326.6,324.5 320.6,326.8 314.6,327.5 314.6,288.8Z" fill="rgb(112,224,0)" stroke="rgb(112,224,0)" stroke-width="0.6"/>
<path d="M542.6,391.2 541.8,395.8 541.9,409.8 540.4,439.8 541.4,455.8 542.6,466.1M542.6,379.6 537.9,387.8 536.5,392.8 536.9,406.8 534.3,428.8 533.4,458.8 533.8,471.8 534.9,481.8 542.6,515.9M542.6,370.5 536.6,379.8 532.7,389.8 531.9,395.8 532,406.8 527.2,425.8 525.3,447.8 525.4,462.8 526.8,480.8 536.5,532.8M542.6,361.2 538.6,366.3 535.3,371.8 530.1,383.8 528.3,390.8 526.4,404.8 518.9,427.8 517.2,435.8 516.1,444.8 515.8,461.8 517.2,477.8 525.6,522.8 526.7,524.8 528.6,532.8M542.6,351.4 533.6,362.4 530.6,367.6 527.9,373.8 520,402.8 513.6,417.4 511.1,424.8 507.2,444.8 506,463.8 507.1,480.8 508.9,490.8 512.3,502.8 518.9,532.8M542.6,340.7 535.1,348.8 531.3,353.8 527.1,360.8 523.3,368.8 518.9,380.8 503.1,428.8 498,448.8 496.5,463.8 497.4,480.8 502.6,509.1 508.4,532.8M542.4,288.8 541.1,322.8 539.6,330.8 538.6,332.8 532.6,339.1 527.1,346.8 522.1,355.8 517.4,365.8 502.8,404.8 490.4,440.8 487.5,451.8 486.5,464.8 487.6,480.8 497.4,532.8M531.4,288.8 532.2,295.8 531.9,303.8 530.6,311.8 528,320.8 524.2,329.8 505.1,367.8 502.6,375.6 500.3,388.8 498.3,395.8 489.8,416.8 479.7,434.8 477.1,441.8 474.9,450.8 473.3,464.8 473.8,477.8 479.4,506.8 481.5,524.8 483.7,528.8 484.1,532.8M507.9,288.8 510.1,298.8 510.7,306.8 510.3,316.8 508.7,328.8 505.8,339.8 497.4,359.8 494,369.8 491.5,380.8 488.1,401.8 485.6,411.3 481.6,419 468.3,432.8 458.5,446.8 454.1,455.8 448.6,474.3 446,480.8 436.6,496.2 431.6,502.6 425.7,506.8 417.6,509.4 403.6,512 392.6,512.1 383.6,510.7 373.6,508.3 334.6,495.4 326.6,493.8 314.6,492.9M476.2,288.8 485.6,308.3 488.1,314.8 489.7,323.8 489.3,331.8 481.5,359.8 480,369.8 478.2,388.8 475.2,399.8 471.6,407 466.4,413.8 459.6,419.7 451.6,424.3 439.6,428.6 424.6,432.2 417.6,433.2 407.6,432.5 396.6,429 390.6,425.9 384.6,421.9 371.6,410.7 366.6,405.1 356.1,389.8 347.1,379.8 340.6,373.8 334.6,369.8 327.6,366.5 319.6,364.3 314.6,364.5M432.3,288.8 438.5,300.8 443.5,312.8 446.3,321.8 447.4,329.8 446.6,338.8 443.6,348.1 438.6,357.2 436.6,359.7 433.6,362 430.6,363.2 425.6,364 417.6,364.2 412.6,363.7 402.6,361.4 375.6,353.2 356.6,350 340.6,349.4 314.6,350.5M345.8,288.8 345.1,297.8 343.6,303.8 340.9,309.8 336.8,315.8 332,320.8 326.6,324.5 320.6,326.8 314.6,327.5" fill="none" stroke="rgba(0,0,0,0.22)" stroke-width="0.55"/>
</g>
<path d="M317.6,529.3V291.8" fill="none" stroke="#000" stroke-width="0.9"/><path d="M317.6,291.8H538.7V529.3H317.6" fill="none" stroke="#111" stroke-width="0.65"/>
<path d="M314.4,291.8H317.6" stroke="#000" stroke-width="0.9"/>
<circle cx="317.6" cy="291.8" r="1.15" fill="#000"/>
<text x="307.0" y="295.5" text-anchor="middle" font-size="11.3">0</text>
<path d="M314.4,315.6H317.6" stroke="#000" stroke-width="0.9"/>
<circle cx="317.6" cy="315.6" r="1.15" fill="#000"/>
<text x="307.0" y="319.2" text-anchor="middle" font-size="11.3">1</text>
<path d="M314.4,339.3H317.6" stroke="#000" stroke-width="0.9"/>
<circle cx="317.6" cy="339.3" r="1.15" fill="#000"/>
<text x="307.0" y="343.0" text-anchor="middle" font-size="11.3">2</text>
<path d="M314.4,363.0H317.6" stroke="#000" stroke-width="0.9"/>
<circle cx="317.6" cy="363.0" r="1.15" fill="#000"/>
<text x="307.0" y="366.7" text-anchor="middle" font-size="11.3">3</text>
<path d="M314.4,386.8H317.6" stroke="#000" stroke-width="0.9"/>
<circle cx="317.6" cy="386.8" r="1.15" fill="#000"/>
<text x="307.0" y="390.5" text-anchor="middle" font-size="11.3">4</text>
<path d="M314.4,410.5H317.6" stroke="#000" stroke-width="0.9"/>
<circle cx="317.6" cy="410.5" r="1.15" fill="#000"/>
<text x="307.0" y="414.2" text-anchor="middle" font-size="11.3">5</text>
<path d="M314.4,434.3H317.6" stroke="#000" stroke-width="0.9"/>
<circle cx="317.6" cy="434.3" r="1.15" fill="#000"/>
<text x="307.0" y="438.0" text-anchor="middle" font-size="11.3">6</text>
<path d="M314.4,458.0H317.6" stroke="#000" stroke-width="0.9"/>
<circle cx="317.6" cy="458.0" r="1.15" fill="#000"/>
<text x="307.0" y="461.7" text-anchor="middle" font-size="11.3">7</text>
<path d="M314.4,481.8H317.6" stroke="#000" stroke-width="0.9"/>
<circle cx="317.6" cy="481.8" r="1.15" fill="#000"/>
<text x="307.0" y="485.5" text-anchor="middle" font-size="11.3">8</text>
<path d="M314.4,505.5H317.6" stroke="#000" stroke-width="0.9"/>
<circle cx="317.6" cy="505.5" r="1.15" fill="#000"/>
<text x="307.0" y="509.2" text-anchor="middle" font-size="11.3">9</text>
<path d="M314.4,529.3H317.6" stroke="#000" stroke-width="0.9"/>
<circle cx="317.6" cy="529.3" r="1.15" fill="#000"/>
<text x="307.0" y="533.0" text-anchor="middle" font-size="11.3">10</text>
<circle cx="483.8" cy="291.8" r="1.2" fill="#000"/>
<circle cx="483.8" cy="315.6" r="1.2" fill="#000"/>
<circle cx="483.8" cy="339.3" r="1.2" fill="#000"/>
<circle cx="483.8" cy="363.0" r="1.2" fill="#000"/>
<circle cx="483.8" cy="386.8" r="1.2" fill="#000"/>
<circle cx="483.8" cy="410.5" r="1.2" fill="#000"/>
<circle cx="483.8" cy="434.3" r="1.2" fill="#000"/>
<circle cx="483.8" cy="458.0" r="1.2" fill="#000"/>
<circle cx="483.8" cy="481.8" r="1.2" fill="#000"/>
<circle cx="483.8" cy="505.5" r="1.2" fill="#000"/>
<circle cx="483.8" cy="529.3" r="1.2" fill="#000"/>
<circle cx="538.7" cy="291.8" r="1.2" fill="#000"/>
<circle cx="538.7" cy="315.6" r="1.2" fill="#000"/>
<circle cx="538.7" cy="339.3" r="1.2" fill="#000"/>
<circle cx="538.7" cy="363.0" r="1.2" fill="#000"/>
<circle cx="538.7" cy="386.8" r="1.2" fill="#000"/>
<circle cx="538.7" cy="410.5" r="1.2" fill="#000"/>
<circle cx="538.7" cy="434.3" r="1.2" fill="#000"/>
<circle cx="538.7" cy="458.0" r="1.2" fill="#000"/>
<circle cx="538.7" cy="481.8" r="1.2" fill="#000"/>
<text x="313.4" y="286.3" font-size="11.8">1<tspan dy="-4.2" font-size="8.8">st</tspan></text>
<text x="477.8" y="286.3" font-size="11.8">2<tspan dy="-4.2" font-size="8.8">nd</tspan></text>
<text x="532.7" y="286.3" font-size="11.8">3<tspan dy="-4.2" font-size="8.8">rd</tspan></text>
<text transform="translate(295.0,410.5) rotate(-90)" text-anchor="middle" font-size="11.3">Depth (m)</text>
<text x="329.5" y="310.0" font-size="11.6" font-weight="bold" fill="#fff">(d)</text>
<text x="333" y="518.3" font-size="11.1" font-weight="bold" fill="#fff">pH</text>
<text transform="translate(415,364.5) rotate(5)" text-anchor="middle" dy="3.7" font-size="11.3" fill="#fff" font-style="italic">9.0</text>
<text transform="translate(429,504) rotate(-40)" text-anchor="middle" dy="3.7" font-size="11.3" fill="#fff" font-style="italic">8.6</text>
<text transform="translate(506.5,338) rotate(-72)" text-anchor="middle" dy="3.7" font-size="11.3" fill="#fff" font-style="italic">8.6</text>
<text transform="translate(510,386.5) rotate(-65)" text-anchor="middle" dy="3.7" font-size="11.3" fill="#fff" font-style="italic">8.2</text>
<text transform="translate(513.5,418) rotate(-75)" text-anchor="middle" dy="3.7" font-size="11.3" fill="#fff" font-style="italic">7.8</text>
<text transform="translate(525.5,453.5) rotate(-85)" text-anchor="middle" dy="3.7" font-size="11.3" fill="#fff" font-style="italic">7.4</text>

</svg>
</body></html>
